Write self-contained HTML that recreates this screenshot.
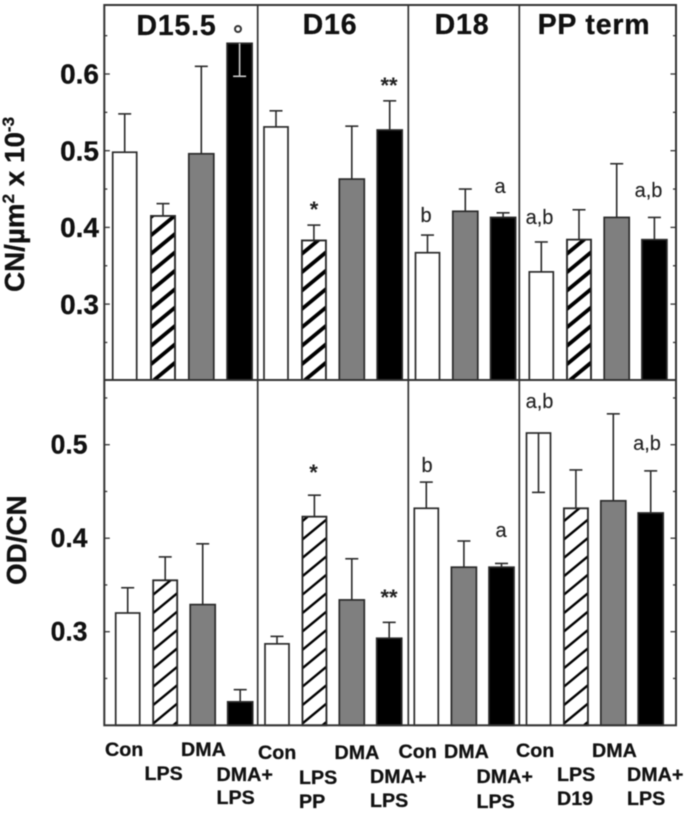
<!DOCTYPE html>
<html lang="en">
<head>
<meta charset="utf-8">
<title>CN density and OD/CN bar charts</title>
<style>
html,body{margin:0;padding:0;background:#fff;width:685px;height:815px;overflow:hidden}
svg{display:block;filter:blur(0.45px)}
text{font-family:"Liberation Sans",Arial,sans-serif;fill:#111}
.lab{font-weight:700;font-size:19.7px;stroke:#111;stroke-width:.25px}
.title{font-weight:700;font-size:28.5px;letter-spacing:.8px;text-anchor:middle;stroke:#111;stroke-width:.3px}
.tick{font-weight:700;text-anchor:end;stroke:#111;stroke-width:.3px}
.note{font-size:20px;text-anchor:middle;fill:#222;stroke:#222;stroke-width:.15px}
.star{font-size:22px;font-weight:700;text-anchor:middle;fill:#222}
.yt{font-weight:700;font-size:27.8px;stroke:#111;stroke-width:.3px}
</style>
</head>
<body>
<svg id="chart" xmlns="http://www.w3.org/2000/svg" width="685" height="815" viewBox="0 0 685 815">
  <defs id="defs"></defs>
  <g id="marks"></g>
  <g id="axes" stroke="#333" fill="none"></g>
  <g>
    <text class="title" x="176.5" y="35">D15.5</text>
    <text class="title" x="330" y="34">D16</text>
    <text class="title" x="462" y="34">D18</text>
    <text class="title" x="594" y="34">PP term</text>
  </g>
  <text class="yt" transform="translate(24 292) rotate(-90)">CN/µm<tspan font-size="17" dy="-10">2</tspan><tspan dy="10"> x 10</tspan><tspan font-size="17" dy="-10">-3</tspan></text>
  <text class="yt" transform="translate(26 585) rotate(-90)">OD/CN</text>
  <g>
    <circle cx="238" cy="29" r="3" fill="none" stroke="#333" stroke-width="2"></circle>
    <text class="star" x="314" y="217">*</text>
    <text class="star" x="389" y="93">**</text>
    <text class="note" x="426" y="222">b</text>
    <text class="note" x="500" y="193">a</text>
    <text class="note" x="539.5" y="224">a,b</text>
    <text class="note" x="648.5" y="197">a,b</text>
  </g>
  <g>
    <text class="star" x="313.5" y="480">*</text>
    <text class="star" x="389" y="605">**</text>
    <text class="note" x="427" y="472">b</text>
    <text class="note" x="501" y="537">a</text>
    <text class="note" x="539.5" y="408">a,b</text>
    <text class="note" x="647" y="450">a,b</text>
  </g>
  <g>
    <text class="lab" x="105" y="756">Con</text>
    <text class="lab" x="144.5" y="780">LPS</text>
    <text class="lab" x="181" y="756">DMA</text>
    <text class="lab" x="216.5" y="781">DMA+</text>
    <text class="lab" x="216.5" y="804">LPS</text>
    <text class="lab" x="258" y="759">Con</text>
    <text class="lab" x="334.5" y="759">DMA</text>
    <text class="lab" x="299" y="784">LPS</text>
    <text class="lab" x="299" y="808">PP</text>
    <text class="lab" x="370" y="783">DMA+</text>
    <text class="lab" x="370" y="807">LPS</text>
    <text class="lab" x="398.5" y="758">Con</text>
    <text class="lab" x="444" y="758">DMA</text>
    <text class="lab" x="476.5" y="783">DMA+</text>
    <text class="lab" x="476.5" y="808">LPS</text>
    <text class="lab" x="516" y="757">Con</text>
    <text class="lab" x="592" y="757">DMA</text>
    <text class="lab" x="557" y="781">LPS</text>
    <text class="lab" x="557" y="805">D19</text>
    <text class="lab" x="627" y="781">DMA+</text>
    <text class="lab" x="627" y="805">LPS</text>
  </g>
</svg>
<script>
const fourGroups = ['con', 'lps', 'dma', 'dma-lps'];
const threeGroups = ['con', 'dma', 'dma-lps'];

const cnD155 = [0.498, 0.415, 0.496, 0.640];
const cnD155Err = [0.548, 0.431, 0.610, 0.597];
const cnD16 = [0.531, 0.383, 0.463, 0.527];
const cnD16Err = [0.552, 0.403, 0.532, 0.565];
const cnD18 = [0.367, 0.421, 0.413];
const cnD18Err = [0.390, 0.450, 0.419];
const cnPP = [0.342, 0.384, 0.413, 0.384];
const cnPPErr = [0.381, 0.423, 0.483, 0.413];

const odD155 = [0.320, 0.355, 0.329, 0.225];
const odD155Err = [0.347, 0.380, 0.394, 0.238];
const odD16 = [0.287, 0.423, 0.334, 0.293];
const odD16Err = [0.295, 0.446, 0.378, 0.310];
const odD18 = [0.432, 0.369, 0.369];
const odD18Err = [0.460, 0.397, 0.373];
const odPP = [0.5125, 0.432, 0.440, 0.427];
const odPPErr = [0.449, 0.473, 0.533, 0.472];

const cnTickLabels = ['0.3', '0.4', '0.5', '0.6'];
const odTickLabels = ['0.3', '0.4', '0.5'];
const cnMinorTicks = ['0.25', '0.35', '0.45', '0.55', '0.65'];
const odMinorTicks = ['0.25', '0.35', '0.45', '0.55'];

const NS = 'http://www.w3.org/2000/svg';
const marks = document.getElementById('marks');
const axes = document.getElementById('axes');
const defs = document.getElementById('defs');
const chart = document.getElementById('chart');

function yTop(v) { return 74 + (0.6 - v) * 767; }
function yBottom(v) { return 444.7 + (0.5 - v) * 935; }

function make(tag, attrs, parent) {
  const el = document.createElementNS(NS, tag);
  for (const k in attrs) el.setAttribute(k, attrs[k]);
  parent.appendChild(el);
  return el;
}

function xCenter(row, panel, i) {
  const firstTop = [124.7, 276, 427.5, 541.3];
  const firstBottom = [127.7, 277, 426.3, 538.5];
  const stepTop = [38.3, 37.9, 37.8, 37.7];
  const stepBottom = [37.5, 37.4, 37.6, 37.4];
  return row === 'cn' ? firstTop[panel] + i * stepTop[panel] : firstBottom[panel] + i * stepBottom[panel];
}

let clipId = 0;
function drawBar(row, panel, i, group, value, errEnd, yFn, base, hatchW, hatchPhase) {
  const cx = xCenter(row, panel, i);
  const w = (group === 'dma' || group === 'dma-lps') ? 25 : 24;
  const x = cx - w / 2;
  const top = yFn(value);
  const fill = group === 'dma' ? '#7f7f7f' : group === 'dma-lps' ? '#000' : '#fff';
  const rect = make('rect', { x: x, y: top, width: w, height: base - top, fill: fill, stroke: '#2a2a2a', 'stroke-width': 1.7 }, marks);
  
  
  if (group === 'lps') {
    clipId += 1;
    const cp = make('clipPath', { id: 'clip' + clipId }, defs);
    make('rect', { x: x, y: top, width: w, height: base - top }, cp);
    const g = make('g', { 'clip-path': 'url(#clip' + clipId + ')', stroke: '#000', 'stroke-width': hatchW }, marks);
    
    
    for (let ly = base + hatchPhase + 18.4; ly > top - 24; ly -= 18.4) {
      make('line', { x1: x - 1, y1: ly, x2: x + w + 1, y2: ly - 21.5 }, g);
    }
    make('rect', { x: x, y: top, width: w, height: base - top, fill: 'none', stroke: '#2a2a2a', 'stroke-width': 1.7 }, marks);
  }
  const ey = yFn(errEnd);
  const col = (group === 'dma-lps' && errEnd < value) ? '#ccc' : '#2a2a2a';
  const g2 = make('g', { stroke: col, 'stroke-width': 1.6 }, marks);
  
  
  make('line', { x1: cx, y1: top, x2: cx, y2: ey }, g2);
  make('line', { x1: cx - 6.5, y1: ey, x2: cx + 6.5, y2: ey }, g2);
}

function drawPanel(row, panel, groups, vals, errs, yFn, base, hw, phase) {
  for (let i = 0; i < groups.length; i++) {
    drawBar(row, panel, i, groups[i], vals[i], errs[i], yFn, base, hw, phase);
  }
}

drawPanel('cn', 0, fourGroups, cnD155, cnD155Err, yTop, 380, 3.8, -15);
drawPanel('cn', 1, fourGroups, cnD16, cnD16Err, yTop, 380, 3.8, -15);
drawPanel('cn', 2, threeGroups, cnD18, cnD18Err, yTop, 380, 3.8, -15);
drawPanel('cn', 3, fourGroups, cnPP, cnPPErr, yTop, 380, 3.8, -15);
drawPanel('od', 0, fourGroups, odD155, odD155Err, yBottom, 725.3, 2.4, -1);
drawPanel('od', 1, fourGroups, odD16, odD16Err, yBottom, 725.3, 2.4, -1);
drawPanel('od', 2, threeGroups, odD18, odD18Err, yBottom, 725.3, 2.4, -1);
drawPanel('od', 3, fourGroups, odPP, odPPErr, yBottom, 725.3, 2.4, -1);

const frame = make('rect', { x: 104.3, y: 5, width: 571.7, height: 720.3, 'stroke-width': 2 }, axes);



const midline = make('line', { x1: 104.3, y1: 380, x2: 676, y2: 380, 'stroke-width': 2 }, axes);



['257.7', '408.3', '519.3'].forEach(function (px) {
  const d = make('line', { x1: px, y1: 5, x2: px, y2: 725, 'stroke-width': 1.7 }, axes);
  
  
});

function drawTick(y, len) {
  const a = make('line', { x1: 104.3, y1: y, x2: 104.3 + len, y2: y, 'stroke-width': 1.3 }, axes);
  
  
  const b = make('line', { x1: 676, y1: y, x2: 676 - len, y2: y, 'stroke-width': 1.3 }, axes);
  
  
}

function drawTickLabels(labels, minor, yFn, rightX, size, drop, row) {
  labels.forEach(function (t) {
    const y = yFn(parseFloat(t));
    drawTick(y, 5.5);
    const el = make('text', { x: rightX, y: y + drop, 'font-size': size, class: 'tick' }, chart);
    
    
    el.textContent = t;
  });
  minor.forEach(function (t) {
    drawTick(yFn(parseFloat(t)), 3);
  });
}

drawTickLabels(cnTickLabels, cnMinorTicks, yTop, 99, 28, 9.7, 'cn');
drawTickLabels(odTickLabels, odMinorTicks, yBottom, 87.5, 26.5, 9, 'od');
</script>
</body>
</html>
